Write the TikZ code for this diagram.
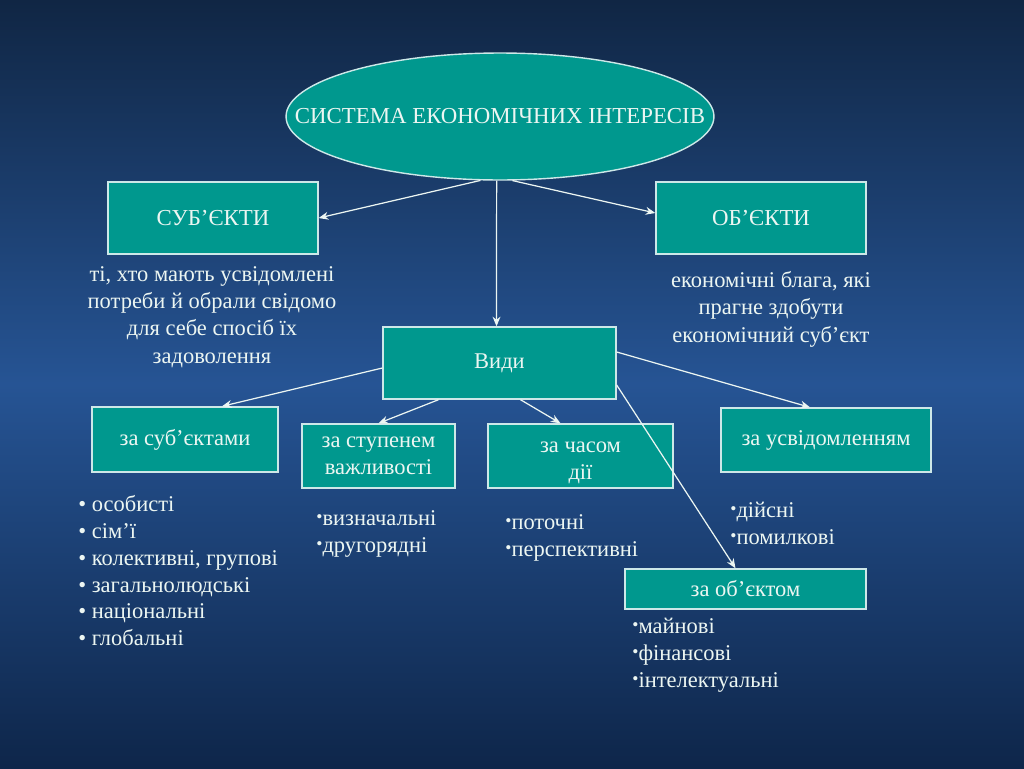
\documentclass[tikz,border=0pt]{standalone}
\usepackage{fontspec}
\setmainfont{Liberation Serif}
\usetikzlibrary{shapes.geometric,arrows.meta,calc}
\definecolor{bgtop}{RGB}{16,38,68}
\definecolor{bgmid}{RGB}{38,84,148}
\definecolor{bgbot}{RGB}{14,38,74}
\definecolor{tealfill}{RGB}{0,152,142}
\definecolor{edgecol}{RGB}{205,232,232}
\definecolor{txt}{RGB}{236,246,242}
\tikzset{
  box/.style={draw=edgecol, line width=0.8pt, fill=tealfill, text=txt, inner sep=0pt, align=center},
  arr/.style={draw=txt, line width=0.7pt, -{Stealth[length=5.5pt,width=4.5pt]}},
  plain/.style={text=txt, inner sep=0pt},
  big/.style={font=\fontsize{13}{15}\selectfont},
  mid/.style={font=\fontsize{12.8}{15.3}\selectfont},
}
\newcommand{\rb}{\raisebox{0.3ex}{\fontsize{10}{10}\selectfont •}}
\begin{document}
\begin{tikzpicture}[x=0.02cm,y=-0.02cm]
\shade[top color=bgtop, bottom color=bgbot, middle color=bgmid] (0,0) rectangle (1024,768);
\useasboundingbox (0,0) rectangle (1024,768);

\node[box, ellipse, minimum width=8.56cm, minimum height=2.54cm] (ell) at (500,116.5) {};
\node[plain, big] (ellt) at (ell.center) {СИСТЕМА ЕКОНОМІЧНИХ ІНТЕРЕСІВ};

\node[box, big, minimum width=4.2cm, minimum height=1.44cm] (subj) at (213,218) {СУБ’ЄКТИ};
\node[box, big, minimum width=4.2cm, minimum height=1.44cm] (obj) at (761,218) {ОБ’ЄКТИ};

\node[plain, mid, align=center, font=\fontsize{12.8}{15.6}\selectfont] (subjd) at (212,317) {ті, хто мають усвідомлені\\потреби й обрали свідомо\\для себе спосіб їх\\задоволення};
\node[plain, mid, align=center, font=\fontsize{12.8}{15.6}\selectfont] (objd) at (771,309) {економічні блага, які\\прагне здобути\\економічний суб'єкт};

\node[box, mid, minimum width=4.66cm, minimum height=1.44cm] (vydy) at (499.5,363) {Види};

\node[box, mid, minimum width=3.72cm, minimum height=1.3cm] (zasub) at (185,439.5) {за суб'єктами};
\node[box, mid, minimum width=3.06cm, minimum height=1.28cm] (zastup) at (378.5,456) {за ступенем\strut\\важливості\strut};
\node[box, mid, minimum width=3.7cm, minimum height=1.28cm] (zachas) at (580.5,456) {};
\node[plain, mid, align=center] (zachast) at ($(zachas.center)+(0,5)$) {за часом\strut\\дії\strut};
\node[box, mid, minimum width=4.2cm, minimum height=1.28cm] (zausv) at (826,440) {за усвідомленням};
\node[box, mid, minimum width=4.82cm, minimum height=0.8cm] (zaob) at (745.5,589) {за об'єктом};

\draw[arr] (ell.-107) -- (subj.east);
\draw[arr] (ell.-79) -- ($(obj.west)+(0,-5)$);
\draw[arr] (ell.-93) -- ($(vydy.north)+(-3,0)$);
\draw[arr] ($(vydy.west)+(0,5)$) -- ($(zasub.north)+(37,0)$);
\draw[arr] ($(vydy.south)+(-61,0)$) -- (zastup.north);
\draw[arr] ($(vydy.south)+(21,0)$) -- ($(zachas.north)+(-20,0)$);
\draw[arr] ($(vydy.east)+(0,-11)$) -- ($(zausv.north)+(-16,0)$);
\draw[arr] ($(vydy.east)+(0,22)$) -- ($(zaob.north)+(-10,0)$);

\node[plain, mid, align=left, anchor=north west] (l1) at (78,495) {• особисті\\• сім’ї\\• колективні, групові\\• загальнолюдські\\• національні\\• глобальні};
\node[plain, mid, align=left, anchor=north west] (l2) at (316,510) {\rb визначальні\\\rb другорядні};
\node[plain, mid, align=left, anchor=north west] (l3) at (505,514) {\rb поточні\\\rb перспективні};
\node[plain, mid, align=left, anchor=north west] (l4) at (730,502) {\rb дійсні\\\rb помилкові};
\node[plain, mid, align=left, anchor=north west] (l5) at (632,618) {\rb майнові\\\rb фінансові\\\rb інтелектуальні};
\end{tikzpicture}
\end{document}
